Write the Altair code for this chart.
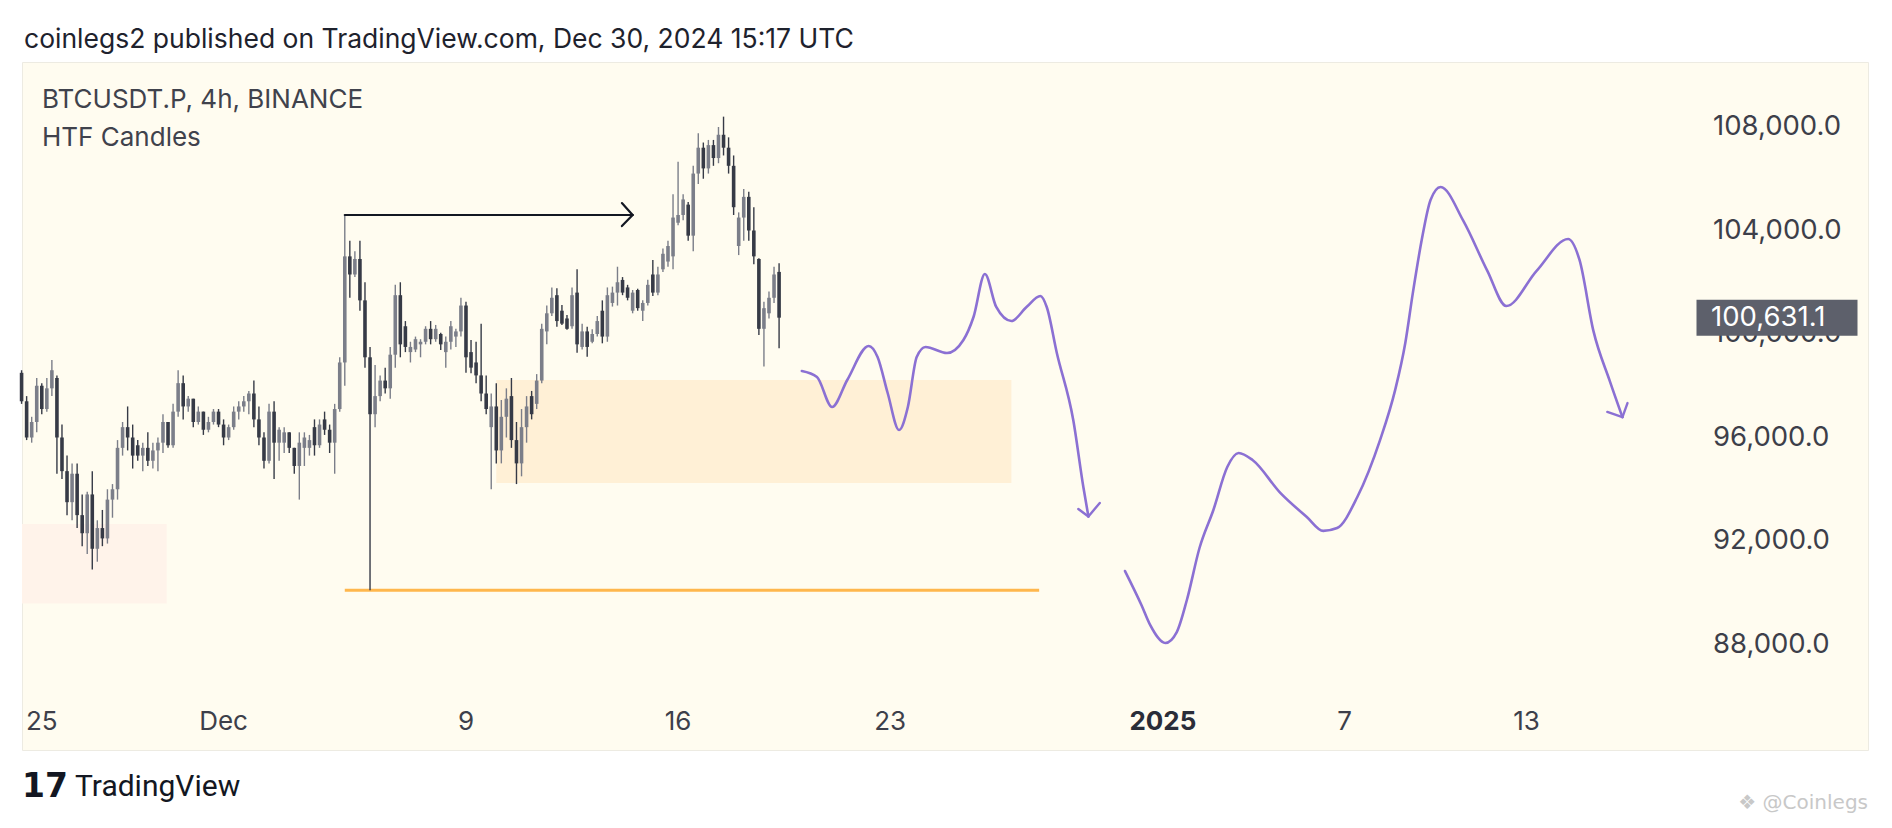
import altair as alt
import pandas as pd

# ---------------- data ----------------
# 4h candles, first bar 2024-11-24 08:00 UTC, values in thousands USDT
bar_open = [98.5, 97.4, 96.0, 96.6, 98.0, 97.1, 97.9, 98.3, 96.0, 94.7,
            93.5, 94.6, 93.0, 92.3, 93.8, 91.7, 92.5, 92.1, 93.6, 94.0,
            95.6, 96.4, 96.0, 95.7, 95.3, 95.6, 95.1, 95.5, 95.8, 96.6,
            95.7, 97.0, 98.1, 97.2, 97.5, 96.6, 97.0, 96.3, 96.6, 97.0,
            96.5, 96.0, 96.4, 97.0, 97.2, 97.4, 97.7, 96.7, 96.0, 95.1,
            97.0, 95.8, 95.8, 96.2, 95.6, 94.9, 95.6, 95.6, 96.4, 95.7,
            96.7, 96.3, 95.8, 97.1, 98.9, 103.0, 102.3, 102.9, 101.3, 99.1,
            96.9, 97.6, 98.2, 97.9, 99.2, 101.5, 100.3, 99.3, 99.4, 99.6,
            99.7, 100.2, 99.8, 100.0, 99.3, 99.7, 99.9, 100.1, 101.1, 99.3,
            98.9, 98.4, 97.7, 96.4, 97.2, 95.5, 96.8, 97.6, 95.9, 95.0,
            96.4, 97.6, 97.3, 98.2, 100.1, 100.8, 101.5, 100.9, 100.6, 100.3,
            101.6, 99.5, 100.1, 99.7, 100.0, 100.9, 99.9, 101.2, 101.6, 102.09,
            101.8, 100.9, 101.7, 100.9, 101.2, 102.3, 101.6, 102.5, 102.8, 103.0,
            104.3, 104.6, 105.0, 103.8, 106.2, 107.2, 106.4, 107.3, 106.8, 107.7,
            107.2, 106.5, 103.4, 104.5, 105.3, 104.0, 102.9, 100.2, 100.8, 101.4,
            102.4]
bar_high = [98.6, 97.6, 96.8, 98.3, 98.1, 98.3, 99.0, 98.4, 96.5, 95.3,
            95.0, 95.0, 93.8, 93.9, 94.7, 92.8, 93.2, 94.0, 94.2, 95.9,
            96.6, 97.2, 96.5, 95.9, 95.8, 96.2, 95.8, 96.0, 96.9, 96.6,
            97.3, 98.6, 98.4, 97.6, 97.5, 97.2, 97.0, 96.8, 97.1, 97.1,
            96.7, 96.5, 97.2, 97.4, 97.6, 97.8, 98.2, 97.2, 96.2, 97.3,
            97.4, 96.4, 96.4, 96.2, 95.6, 96.2, 96.2, 96.1, 96.7, 96.7,
            97.0, 96.5, 97.3, 99.1, 104.6, 103.6, 103.2, 103.6, 102.0, 99.5,
            98.8, 98.4, 98.7, 99.5, 101.9, 102.0, 100.5, 99.7, 99.9, 99.8,
            100.3, 100.5, 100.35, 100.05, 99.9, 100.5, 100.2, 101.4, 101.25, 99.77,
            99.7, 100.4, 98.4, 97.7, 98.1, 97.45, 97.9, 98.3, 96.6, 97.1,
            97.6, 97.8, 98.45, 100.4, 101.1, 101.8, 101.77, 101.12, 100.73, 101.8,
            102.5, 100.4, 100.28, 100.18, 100.7, 101.3, 101.8, 101.83, 102.6, 102.2,
            101.9, 101.7, 101.75, 101.3, 102.1, 102.86, 102.6, 103.3, 103.6, 105.4,
            106.66, 105.4, 105.1, 106.5, 107.76, 107.4, 107.5, 107.5, 108.0, 108.4,
            107.6, 106.9, 104.7, 105.6, 105.5, 104.9, 102.93, 101.25, 101.64, 102.6,
            102.73]
bar_low = [97.3, 95.9, 95.8, 96.2, 96.9, 97.0, 97.6, 94.6, 94.4, 93.0,
           92.8, 92.5, 91.8, 91.5, 90.9, 91.2, 91.8, 91.9, 92.9, 93.6,
           95.3, 95.5, 94.8, 95.1, 94.7, 94.9, 94.8, 94.7, 95.4, 95.6,
           95.6, 96.8, 96.7, 97.0, 96.4, 96.5, 96.1, 96.2, 96.5, 96.4,
           95.7, 95.9, 96.3, 96.7, 97.0, 96.9, 96.4, 95.7, 94.8, 95.0,
           94.4, 95.1, 95.4, 95.4, 94.6, 93.6, 94.9, 95.3, 95.3, 95.6,
           96.1, 95.4, 94.6, 97.0, 98.0, 101.4, 102.2, 100.9, 98.7, 90.1,
           96.4, 97.4, 97.7, 97.5, 98.7, 99.1, 99.3, 98.9, 99.3, 99.1,
           99.6, 99.6, 99.7, 99.38, 98.7, 99.4, 99.5, 99.9, 98.5, 98.48,
           98.1, 97.4, 96.9, 94.0, 95.0, 95.0, 96.0, 95.6, 94.2, 94.5,
           95.8, 96.7, 97.1, 98.1, 99.6, 100.7, 100.28, 100.35, 100.16, 100.2,
           99.28, 99.4, 99.12, 99.64, 99.9, 99.64, 99.7, 101.06, 101.1, 101.5,
           101.3, 100.8, 100.9, 100.5, 101.1, 101.47, 101.5, 102.4, 102.6, 102.5,
           104.2, 104.4, 103.6, 103.2, 105.8, 106.0, 106.2, 106.5, 106.6, 106.9,
           106.2, 104.6, 103.05, 103.6, 103.6, 102.7, 99.96, 98.74, 100.6, 101.2,
           99.45]
bar_close = [97.4, 96.0, 96.6, 98.0, 97.1, 97.9, 98.6, 96.0, 94.7, 93.5,
             94.6, 93.0, 92.3, 93.8, 91.7, 92.5, 92.1, 93.6, 94.0, 95.6,
             96.4, 96.0, 95.3, 95.3, 95.6, 95.1, 95.5, 95.8, 96.6, 95.7,
             97.0, 98.1, 97.2, 97.5, 96.6, 97.0, 96.3, 96.6, 97.0, 96.5,
             96.0, 96.4, 97.0, 97.2, 97.4, 97.7, 96.7, 96.0, 95.1, 97.0,
             95.8, 96.3, 96.2, 95.6, 94.9, 95.8, 96.0, 95.9, 95.7, 96.5,
             96.3, 95.8, 97.1, 98.9, 103.0, 102.3, 102.9, 101.3, 99.1, 96.9,
             97.6, 98.2, 97.9, 99.2, 101.5, 99.6, 99.5, 99.5, 99.8, 99.7,
             100.2, 99.8, 100.2, 99.6, 99.7, 100.3, 100.1, 101.1, 99.1, 98.7,
             98.4, 97.7, 97.1, 97.2, 95.5, 96.8, 97.5, 95.9, 95.0, 96.4,
             97.2, 96.9, 98.2, 100.2, 100.8, 101.4, 100.5, 100.4, 100.2, 101.5,
             99.6, 100.1, 99.5, 100.0, 100.5, 99.9, 101.5, 101.6, 102.0, 101.6,
             101.4, 101.6, 101.0, 101.2, 101.9, 101.6, 102.3, 103.1, 103.4, 104.5,
             104.6, 105.2, 103.8, 106.2, 107.2, 106.4, 107.3, 106.8, 107.7, 107.2,
             106.5, 104.9, 104.5, 105.3, 104.0, 103.0, 100.2, 101.0, 101.4, 102.3,
             100.6311]

# hand-drawn purple projections (time, price)
p1_t = ["2024-12-20T02:00:00Z", "2024-12-20T14:00:00Z", "2024-12-21T02:00:00Z", "2024-12-21T14:00:00Z",
        "2024-12-22T07:00:00Z", "2024-12-22T14:00:00Z", "2024-12-22T22:00:00Z", "2024-12-23T07:00:00Z",
        "2024-12-23T14:00:00Z", "2024-12-23T21:00:00Z", "2024-12-24T04:00:00Z", "2024-12-24T21:00:00Z",
        "2024-12-25T10:00:00Z", "2024-12-25T18:00:00Z", "2024-12-26T03:00:00Z", "2024-12-26T12:00:00Z",
        "2024-12-27T00:00:00Z", "2024-12-27T12:00:00Z", "2024-12-27T23:00:00Z", "2024-12-28T04:00:00Z",
        "2024-12-28T12:00:00Z", "2024-12-29T01:00:00Z", "2024-12-29T09:00:00Z", "2024-12-29T13:00:00Z"]
p1_p = [98571, 98339, 97179, 98223, 99537, 99112, 97720, 96290, 97179, 99112, 99498, 99266,
        99769, 100658, 102320, 101044, 100503, 101044, 101469, 101044, 99266, 96677, 94087, 92950]

p2_t = ["2024-12-30T18:00:00Z", "2024-12-31T07:00:00Z", "2024-12-31T14:00:00Z", "2025-01-01T02:00:00Z",
        "2025-01-01T11:00:00Z", "2025-01-01T19:00:00Z", "2025-01-02T05:00:00Z", "2025-01-02T16:00:00Z",
        "2025-01-03T03:00:00Z", "2025-01-03T12:00:00Z", "2025-01-03T23:00:00Z", "2025-01-04T21:00:00Z",
        "2025-01-05T18:00:00Z", "2025-01-06T07:00:00Z", "2025-01-06T18:00:00Z", "2025-01-07T10:00:00Z",
        "2025-01-08T04:00:00Z", "2025-01-08T16:00:00Z", "2025-01-09T00:00:00Z", "2025-01-09T06:00:00Z",
        "2025-01-09T13:00:00Z", "2025-01-09T20:00:00Z", "2025-01-10T04:00:00Z", "2025-01-10T22:00:00Z",
        "2025-01-11T17:00:00Z", "2025-01-12T08:00:00Z", "2025-01-13T08:00:00Z", "2025-01-14T09:00:00Z",
        "2025-01-14T18:00:00Z", "2025-01-15T05:00:00Z", "2025-01-15T18:00:00Z", "2025-01-16T04:00:00Z"]
p2_p = [90840, 89530, 88750, 88060, 88480, 89720, 91730, 93200, 94860, 95400, 95130, 93860,
        92930, 92390, 92500, 93700, 95900, 97840, 99650, 101590, 103630, 105180, 105680, 104370,
        102440, 101080, 102440, 103670, 102860, 100120, 98180, 96790]

# arrow heads / black measure arrow segments (t0, p0) -> (t1, p1)
purple_t0 = ["2024-12-29T05:00:00Z", "2024-12-29T22:00:00Z", "2025-01-15T16:00:00Z", "2025-01-16T08:00:00Z"]
purple_p0 = [93240, 93470, 96990, 97330]
purple_t1 = ["2024-12-29T13:00:00Z", "2024-12-29T13:00:00Z", "2025-01-16T04:00:00Z", "2025-01-16T04:00:00Z"]
purple_p1 = [92950, 92950, 96790, 96790]

black_t0 = ["2024-12-05T00:00:00Z", "2024-12-14T03:30:00Z", "2024-12-14T03:30:00Z"]
black_p0 = [104600, 105060, 104170]
black_t1 = ["2024-12-14T12:00:00Z", "2024-12-14T12:00:00Z", "2024-12-14T12:00:00Z"]
black_p1 = [104600, 104600, 104600]

# zones and level
pink_zone = {"t0": ["2024-11-20T00:00:00Z"], "t1": ["2024-11-29T03:00:00Z"], "lo": [89580], "hi": [92660]}
orange_zone = {"t0": ["2024-12-10T00:00:00Z"], "t1": ["2024-12-27T00:00:00Z"], "lo": [94240], "hi": [98220]}
level_t0 = ["2024-12-05T00:00:00Z"]
level_t1 = ["2024-12-27T22:00:00Z"]
level_p = [90100]

# axis ticks
price_ticks = [88000, 92000, 96000, 100000, 104000, 108000]
date_ticks = ["2024-11-25T00:00:00Z", "2024-12-01T00:00:00Z", "2024-12-09T00:00:00Z", "2024-12-16T00:00:00Z",
              "2024-12-23T00:00:00Z", "2025-01-01T00:00:00Z", "2025-01-07T00:00:00Z", "2025-01-13T00:00:00Z"]
date_labels = ["25", "Dec", "9", "16", "23", "2025", "7", "13"]
date_bold = [False, False, False, False, False, True, False, False]
last_price = [100631.1]

title_text = ["coinlegs2 published on TradingView.com, Dec 30, 2024 15:17 UTC"]
legend_lines = ["BTCUSDT.P, 4h, BINANCE", "HTF Candles"]

# ---------------- tables ----------------
start = pd.Timestamp("2024-11-24T08:00:00Z")
candles = pd.DataFrame({
    "t": [(start + pd.Timedelta(hours=4 * i)).strftime("%Y-%m-%dT%H:%M:%SZ") for i in range(len(bar_open))],
    "o": [v * 1000 for v in bar_open],
    "h": [v * 1000 for v in bar_high],
    "l": [v * 1000 for v in bar_low],
    "c": [v * 1000 for v in bar_close],
})
paths = pd.DataFrame({
    "t": p1_t + p2_t,
    "p": p1_p + p2_p,
    "seg": ["a"] * len(p1_t) + ["b"] * len(p2_t),
})
purple_seg = pd.DataFrame({"t0": purple_t0, "p0": purple_p0, "t1": purple_t1, "p1": purple_p1})
black_seg = pd.DataFrame({"t0": black_t0, "p0": black_p0, "t1": black_t1, "p1": black_p1})
level = pd.DataFrame({"t0": level_t0, "t1": level_t1, "p": level_p})
box = pd.DataFrame({"p": last_price, "label": [f"{v:,.1f}" for v in last_price]})
yticks = pd.DataFrame({"p": price_ticks})
xticks = pd.DataFrame({"t": date_ticks, "label": date_labels, "bold": date_bold})

# ---------------- styling ----------------
FONT = "Inter"
LABEL = "#3d3f4a"
W, H = 1846, 688
xscale = alt.Scale(type="utc", nice=False,
                   domain=[alt.DateTime(year=2024, month=11, date=24, hours=8, minutes=20, utc=True),
                           alt.DateTime(year=2025, month=1, date=24, hours=6, minutes=30, utc=True)])
yscale = alt.Scale(domain=[83923, 110512], nice=False, zero=False)


def X(field):
    return alt.X(field, scale=xscale, axis=None)


def Y(field):
    return alt.Y(field, scale=yscale, axis=None)


UP, DOWN = "#7b7e89", "#363a46"
candle_color = alt.condition("datum.c >= datum.o", alt.value(UP), alt.value(DOWN))

base = alt.Chart(candles)
wicks = base.mark_rule(strokeWidth=1.4).encode(x=X("t:T"), y=Y("l:Q"), y2="h:Q", color=candle_color)
bodies = base.mark_rule(strokeWidth=3.6).encode(x=X("t:T"), y=Y("o:Q"), y2="c:Q", color=candle_color)

pink = alt.Chart(pd.DataFrame(pink_zone)).mark_rect(color="#FFF3EA", clip=True).encode(
    x=X("t0:T"), x2="t1:T", y=Y("lo:Q"), y2="hi:Q")
orange = alt.Chart(pd.DataFrame(orange_zone)).mark_rect(color="#FFF0D6").encode(
    x=X("t0:T"), x2="t1:T", y=Y("lo:Q"), y2="hi:Q")

level_line = alt.Chart(level).mark_rule(color="#FFB74D", strokeWidth=3).encode(
    x=X("t0:T"), x2="t1:T", y=Y("p:Q"))

black_arrow = alt.Chart(black_seg).mark_rule(color="#131722", strokeWidth=2.2, strokeCap="round").encode(
    x=X("t0:T"), x2="t1:T", y=Y("p0:Q"), y2="p1:Q")

PURPLE = "#8B70D3"
purple_paths = alt.Chart(paths).mark_line(color=PURPLE, strokeWidth=2.6, interpolate="monotone",
                                          strokeCap="round", strokeJoin="round").encode(
    x=X("t:T"), y=Y("p:Q"), detail="seg:N")
purple_heads = alt.Chart(purple_seg).mark_rule(color=PURPLE, strokeWidth=2.4, strokeCap="round").encode(
    x=X("t0:T"), x2="t1:T", y=Y("p0:Q"), y2="p1:Q")

# price scale labels (inside the panel, right side)
ylabels = alt.Chart(yticks).mark_text(align="left", baseline="middle", font=FONT, fontSize=27.5,
                                      color=LABEL).encode(
    y=Y("p:Q"), x=alt.value(1691), text=alt.Text("p:Q", format=",.1f"))

# time scale labels (inside the panel, bottom)
xlabels = alt.Chart(xticks).transform_filter("!datum.bold").mark_text(
    align="center", baseline="middle", font=FONT, fontSize=26, color=LABEL).encode(
    x=X("t:T"), y=alt.value(660), text="label:N")
xlabels_bold = alt.Chart(xticks).transform_filter("datum.bold").mark_text(
    align="center", baseline="middle", font=FONT, fontSize=26, fontWeight="bold", color="#2a2d38").encode(
    x=X("t:T"), y=alt.value(660), text="label:N")

price_box = alt.Chart(box).mark_tick(orient="horizontal", thickness=36, size=161, color="#5d606b",
                                     opacity=1).encode(y=Y("p:Q"), x=alt.value(1755))
price_text = alt.Chart(box).mark_text(align="left", baseline="middle", color="white",
                                      font=FONT, fontSize=27.5).encode(
    y=Y("p:Q"), x=alt.value(1689), text="label:N")

title = alt.Chart(pd.DataFrame({"txt": title_text})).mark_text(
    align="left", baseline="middle", font=FONT, fontSize=26.5, color="#1e222d").encode(
    text="txt:N", x=alt.value(2), y=alt.value(-22))
legend1 = alt.Chart(pd.DataFrame({"txt": legend_lines[:1]})).mark_text(
    align="left", baseline="middle", font=FONT, fontSize=26, color="#40424c").encode(
    text="txt:N", x=alt.value(20), y=alt.value(38))
legend2 = alt.Chart(pd.DataFrame({"txt": legend_lines[1:]})).mark_text(
    align="left", baseline="middle", font=FONT, fontSize=26, color="#40424c").encode(
    text="txt:N", x=alt.value(20), y=alt.value(76))
logo_icon = alt.Chart(pd.DataFrame({"txt": ["17"]})).mark_text(
    align="left", baseline="middle", font="DejaVu Sans", fontSize=33, fontWeight="bold",
    color="#131722").encode(text="txt:N", x=alt.value(0), y=alt.value(725))
logo_text = alt.Chart(pd.DataFrame({"txt": ["TradingView"]})).mark_text(
    align="left", baseline="middle", font="Roboto", fontSize=30, color="#131722").encode(
    text="txt:N", x=alt.value(53), y=alt.value(725))
watermark = alt.Chart(pd.DataFrame({"txt": ["❖ @Coinlegs"]})).mark_text(
    align="right", baseline="middle", font="DejaVu Sans", fontSize=20, color="#c8c8c8").encode(
    text="txt:N", x=alt.value(1846), y=alt.value(741))

chart = alt.layer(
    pink, orange, level_line, ylabels, xlabels, xlabels_bold, wicks, bodies, black_arrow,
    purple_paths, purple_heads, price_box, price_text, title, legend1, legend2,
    logo_icon, logo_text, watermark,
).properties(
    width=W, height=H,
    autosize=alt.AutoSizeParams(type="none"),
    padding={"left": 14, "top": 54, "right": 16, "bottom": 66},
    background="white",
).configure_view(
    fill="#FFFCF0", stroke="#EDEBE2", strokeWidth=1,
)

chart.save("out.html", embed_options={"renderer": "svg", "actions": False})
